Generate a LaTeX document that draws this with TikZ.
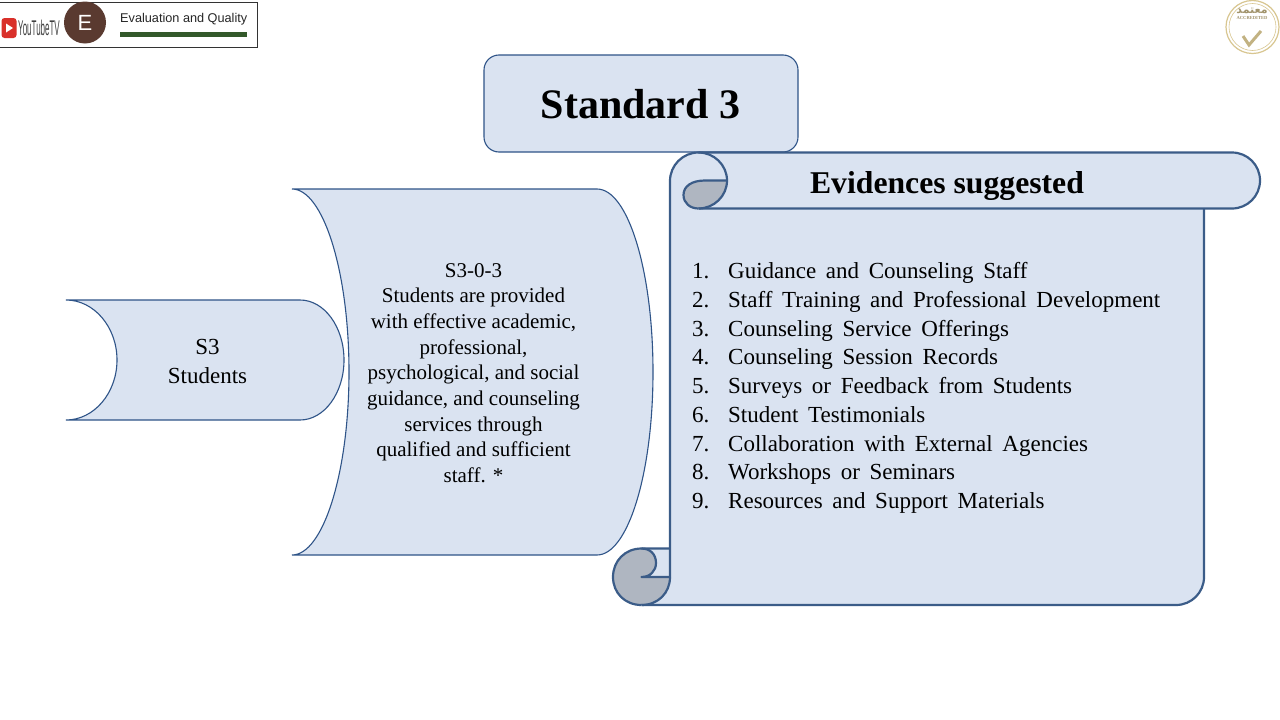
\documentclass[tikz,border=0pt]{standalone}
\usepackage{fontspec}
\setmainfont{Liberation Serif}
\newfontfamily\hdsans{Liberation Sans}
\newfontfamily\arabicfont[Script=Arabic]{DejaVu Sans}
\TeXXeTstate=1
\newcommand{\wordgap}[1]{\spaceskip=#1em\relax}
\definecolor{fillblue}{HTML}{DAE3F1}
\definecolor{edgethin}{HTML}{2F5488}
\definecolor{edgethick}{HTML}{3B5C88}
\definecolor{rollgray}{HTML}{AFB6C1}
\definecolor{gold}{HTML}{D8C690}
\definecolor{ballbrown}{HTML}{5A3A30}
\definecolor{barGreen}{HTML}{33592B}
\definecolor{ytred}{HTML}{D9302A}
\tikzset{
  x=1pt,y=-1pt,
  thinedge/.style={draw=edgethin,line width=1.1pt,fill=fillblue},
  thickedge/.style={draw=edgethick,line width=2.2pt,line join=round},
  itemtext/.style={inner sep=0pt,anchor=base west,font=\fontsize{23}{26}\selectfont,text=black},
}
\begin{document}
\begin{tikzpicture}
\useasboundingbox (0,0) rectangle (1280,720);
\fill[white] (0,0) rectangle (1280,720);

% header strip
\node[draw=black!80,line width=1.2pt,fill=white,minimum width=258pt,minimum height=45pt,anchor=north west,inner sep=0pt] (strip) at (-1,2) {};
\node[fill=ytred,rounded corners=3pt,minimum width=15pt,minimum height=20pt,inner sep=0pt] (yticon) at (9,28) {};
\fill[white] (6,23.5) -- (13,28) -- (6,32.5) -- cycle;
\node[inner sep=0pt,anchor=west,font=\hdsans\fontsize{17}{17}\selectfont,text=black!75] (yttext) at (18,28) {\scalebox{0.47}[1.25]{YouTubeTV}};
\node[circle,fill=ballbrown,minimum size=42pt,inner sep=0pt,text=white,font=\hdsans\fontsize{22}{22}\selectfont] (eball) at (85,22.5) {E};
\node[inner sep=0pt,anchor=west,font=\hdsans\fontsize{12.7}{14}\selectfont,text=black!85] (evq) at (120,19) {Evaluation and Quality};
\node[fill=barGreen,minimum width=127pt,minimum height=5pt,inner sep=0pt,anchor=west] (greenbar) at (120,34) {};

% accreditation badge
\node[circle,draw=gold,line width=1.2pt,fill=white,minimum size=53pt,inner sep=0pt] (badge) at (1252.5,27) {};
\node[circle,draw=gold,line width=0.6pt,minimum size=47pt,inner sep=0pt] (badgein) at (1252.5,27) {};
\node[inner sep=0pt,text=gold!75!black,font=\arabicfont\bfseries\fontsize{11}{11}\selectfont] (badgeAr) at (1252,10.5) {\beginR معتمد\endR};
\node[inner sep=0pt,text=gold!75!black,font=\fontsize{4.6}{5}\bfseries\selectfont] (badgeEn) at (1252,18) {ACCREDITED};
\draw[gold!90!black,line width=3pt] (1243,36) -- (1249,45) -- (1261,31);

% title
\node[thinedge,rounded corners=15pt,minimum width=314pt,minimum height=97pt,inner sep=0pt] (title) at (641,103.5) {};
\node[inner sep=0pt,font=\fontsize{42}{44}\bfseries\selectfont] (titletext) at (640.5,104.5) {Standard 3};

% S3 shape
\draw[thinedge] (66,300) -- (300,300) .. controls (324.3,300) and (344,327) .. (344,360) .. controls (344,393) and (324.3,420) .. (300,420) -- (66,420)
  .. controls (94,420) and (117,393) .. (117,360) .. controls (117,327) and (94,300) .. (66,300) -- cycle;
\node[inner sep=0pt,align=center,font=\fontsize{23}{29}\selectfont] (s3) at (207.5,361.5) {S3\\Students};

% S3-0-3 shape
\draw[thinedge] (292,189) -- (597,189) .. controls (628,189) and (653,271) .. (653,372)
  .. controls (653,473) and (628,555) .. (597,555) -- (292,555)
  .. controls (323,555) and (349,473) .. (349,372) .. controls (349,271) and (323,189) .. (292,189) -- cycle;
\node[inner sep=0pt,align=center,font=\fontsize{21}{25.7}\selectfont] (s303) at (473.5,373) {\wordgap{0.4}S3-0-3\\Students are provided\\with effective academic,\\professional,\\psychological, and social\\guidance, and counseling\\services through\\qualified and sufficient\\staff. *};

% scroll: body and band
\fill[fillblue] (670,181) .. controls (670,165.3) and (682.8,152.5) .. (698.5,152.5) -- (1232,152.5)
  .. controls (1247.5,152.5) and (1260,165) .. (1260,180.5) .. controls (1260,196) and (1247.5,208.5) .. (1232,208.5)
  -- (1204,208.5) -- (1204,577) .. controls (1204,592.5) and (1191.5,605) .. (1176,605)
  -- (641.5,605) -- (641.5,548.5) -- (670,548.5) -- cycle;
% gray curls
\fill[rollgray] (727,180.5) -- (705,180.5) .. controls (692,180.5) and (683.5,186) .. (683.5,195) .. controls (683.5,203) and (690,208.5) .. (698.5,208.5) .. controls (714,208.5) and (727,196) .. (727,180.5) -- cycle;
\fill[rollgray] (641.5,577) .. controls (650,577) and (656,571) .. (656,563) .. controls (656,554) and (650,548.5) .. (641.5,548.5) .. controls (625,548.5) and (613,561) .. (613,577) .. controls (613,593) and (625,605) .. (641.5,605) .. controls (658,605) and (670,593) .. (670,577) -- cycle;
% outlines
\draw[thickedge] (670,577) -- (670,181) .. controls (670,165.3) and (682.8,152.5) .. (698.5,152.5) -- (1232,152.5)
  .. controls (1247.5,152.5) and (1260,165) .. (1260,180.5) .. controls (1260,196) and (1247.5,208.5) .. (1232,208.5) -- (698.5,208.5);
\draw[thickedge] (698.5,152.5) .. controls (714,152.5) and (727,165) .. (727,180.5) .. controls (727,196) and (714,208.5) .. (698.5,208.5);
\draw[thickedge] (727,180.5) -- (705,180.5) .. controls (692,180.5) and (683.5,186) .. (683.5,195) .. controls (683.5,203) and (690,208.5) .. (698.5,208.5);
\draw[thickedge] (1204,208.5) -- (1204,577) .. controls (1204,592.5) and (1191.5,605) .. (1176,605) -- (641.5,605);
\draw[thickedge] (641.5,605) .. controls (625,605) and (613,593) .. (613,577) .. controls (613,561) and (625,548.5) .. (641.5,548.5) -- (670,548.5);
\draw[thickedge] (641.5,548.5) .. controls (650,548.5) and (656,554) .. (656,563) .. controls (656,571) and (650,577) .. (641.5,577) -- (670,577);
\draw[thickedge] (670,577) .. controls (670,593) and (658,605) .. (641.5,605);

\node[inner sep=0pt,font=\fontsize{31.7}{34}\bfseries\selectfont] (evid) at (947,185.5) {Evidences suggested};

% list
\foreach \i/\yy/\tx in {
 1/278/{Guidance and Counseling Staff},
 2/307/{Staff Training and Professional Development},
 3/336/{Counseling Service Offerings},
 4/364/{Counseling Session Records},
 5/393/{Surveys or Feedback from Students},
 6/422/{Student Testimonials},
 7/451/{Collaboration with External Agencies},
 8/479/{Workshops or Seminars},
 9/508/{Resources and Support Materials}}{
  \node[itemtext] (num\i) at (692,\yy) {\i.};
  \node[itemtext] (item\i) at (728,\yy) {\wordgap{0.42}\tx};
}
\end{tikzpicture}
\end{document}
